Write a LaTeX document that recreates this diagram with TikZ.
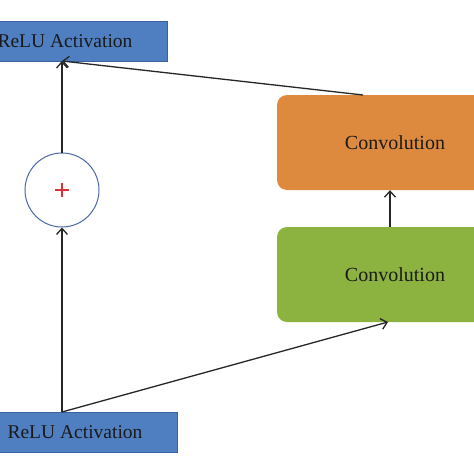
\documentclass[tikz,border=0pt]{standalone}
\usepackage{fontspec}
\setmainfont{Liberation Serif}
\usetikzlibrary{arrows.meta}
\definecolor{bluefill}{HTML}{4F7FC0}
\definecolor{blueedge}{HTML}{3A62A0}
\definecolor{orangefill}{HTML}{DE8A3E}
\definecolor{greenfill}{HTML}{8CB340}
\definecolor{circedge}{HTML}{4A68A8}
\definecolor{plusred}{HTML}{D9303A}
\definecolor{txt}{HTML}{1A1A1A}
\tikzset{
  relubox/.style={draw=blueedge, line width=1pt, fill=bluefill, minimum width=204pt, minimum height=40pt, inner sep=0pt, font=\fontsize{19.5}{22}\selectfont, text=txt},
  convbox/.style={rounded corners=10pt, minimum width=236pt, minimum height=95pt, inner sep=0pt, font=\fontsize{20}{24}\selectfont, text=txt},
  conn/.style={line width=1.3pt, draw=black!85},
  arr/.style={conn, -{Straight Barb[length=6pt,width=11pt,line width=1.3pt]}},
}
\begin{document}
\begin{tikzpicture}[x=1pt,y=-1pt]
\useasboundingbox (0,0) rectangle (474,474);
\node[relubox] (top) at (65,41) {ReLU Activation};
\node[relubox] (bot) at (75,432) {ReLU Activation};
\node[draw=circedge, line width=1pt, circle, minimum size=74pt, inner sep=0pt, fill=white] (sum) at (62,190) {};
\draw[plusred, line width=1.3pt] (55,190) -- (69,190) (62,183) -- (62,197);
\node[convbox, fill=orangefill] (c2) at (395,142.5) {Convolution};
\node[convbox, fill=greenfill] (c1) at (395,274.5) {Convolution};
\coordinate (tin) at (62,61);
\coordinate (bout) at (62,412);
\coordinate (c2tl) at (363,95);
\coordinate (c1b) at (388,322);
\draw[arr] (bout) -- (sum.south);
\draw[arr] (sum.north) -- (tin);
\draw[arr] (c2tl) -- (tin);
\draw[arr] (bout) -- (c1b);
\draw[arr] (c1.north -| 390,0) -- (c2.south -| 390,0);
\end{tikzpicture}
\end{document}
